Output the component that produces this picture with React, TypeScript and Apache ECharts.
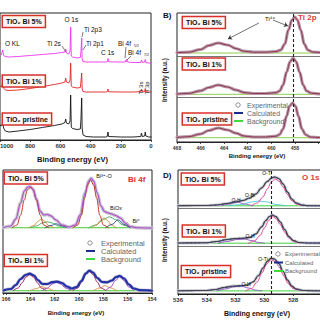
import React, { useEffect, useRef } from 'react';
import * as echarts from 'echarts';

const FONT = '"Liberation Sans", Arial, "DejaVu Sans", sans-serif';

type Pt = [number, number];

// ---------- A) survey spectra: binding energy (eV), stacked intensity (a.u.)
const surveyTicks = [1000, 800, 600, 400, 200, 0];
const surveyPristine: Pt[] = [
  [1000, 15], [992, 14], [982, 17], [976, 12], [965, 9], [940, 8], [880, 9], [800, 10.5],
  [720, 12.5], [640, 14.5], [590, 16], [570, 17.5], [565, 21], [560, 17], [545, 16], [536, 19],
  [532, 45], [528, 13], [520, 11.5], [490, 10.5], [468, 11], [464, 20], [459, 42], [456, 12],
  [450, 5], [430, 3.5], [380, 3], [300, 3], [290, 3.5], [285, 8], [281, 3.5], [200, 3],
  [120, 3], [68, 3.5], [63, 7], [58, 3.5], [42, 4], [38, 8], [34, 4], [15, 3], [0, 3],
];
const surveyBi1: Pt[] = [
  [1000, 54], [992, 53], [982, 57], [976, 52], [965, 50], [940, 49.5], [880, 50], [800, 51.5],
  [720, 53.5], [640, 55.5], [590, 57], [570, 58], [565, 62], [560, 58], [545, 57], [536, 60],
  [532, 77], [528, 54], [520, 53], [490, 52], [468, 52.5], [464, 58], [459, 67], [456, 51],
  [450, 48.5], [430, 48], [300, 48], [290, 48.3], [285, 51], [281, 48.2], [200, 48], [120, 48],
  [68, 48.3], [63, 51], [58, 48.2], [42, 48.5], [38, 51.5], [34, 48.3], [15, 48], [0, 48],
];
const surveyBi5: Pt[] = [
  [1000, 86], [992, 85], [982, 90], [976, 84.5], [965, 83.5], [940, 83], [880, 83.5], [800, 84.5],
  [720, 85.5], [640, 86.5], [590, 87.5], [570, 88], [565, 91], [560, 87], [545, 86], [536, 89],
  [532, 113], [528, 84], [520, 83], [490, 82], [468, 82.5], [464, 88], [459, 102], [456, 81],
  [450, 78.5], [430, 78], [300, 78], [290, 78.3], [285, 81.5], [281, 78.2], [200, 78], [170, 78],
  [165, 80], [162, 78.5], [160, 80.5], [156, 78], [120, 77.5], [68, 77.5], [63, 80], [58, 77.5],
  [42, 78], [38, 80.5], [34, 77.5], [15, 77], [0, 77],
];

// ---------- B) Ti 2p high-resolution spectra
const ti2pTicks = [468, 466, 464, 462, 460, 458];
const ti2pBi5: Pt[] = [
  [468, 89.3], [467, 89.8], [466, 92.5], [465.3, 96.5], [464.5, 99], [463.7, 97], [463, 93.5],
  [462.3, 90.8], [461.5, 89.8], [460.5, 89.8], [459.6, 90.5], [459.2, 92], [458.85, 98],
  [458.55, 112], [458.25, 122], [458.0, 125], [457.78, 122], [457.5, 112], [457.2, 98],
  [456.9, 92], [456.5, 90], [455.5, 89.3], [454, 89],
];
const ti2pBi1: Pt[] = [
  [468, 48], [467, 48.6], [466, 51.2], [465.3, 54.5], [464.5, 57], [463.7, 55], [463, 52],
  [462.3, 49.5], [461.5, 48.5], [460.5, 48.5], [459.6, 49.3], [459.3, 51], [459.0, 57],
  [458.7, 70], [458.4, 80.5], [458.15, 83.7], [457.9, 80.5], [457.6, 70], [457.3, 57],
  [457.0, 51], [456.6, 48.8], [455.8, 48], [454, 47.8],
];
const ti2pPristine: Pt[] = [
  [468, 4.6], [467, 5.3], [466, 8], [465.3, 11.5], [464.5, 14], [463.7, 12], [463, 8.8],
  [462.3, 6], [461.5, 5], [460.5, 5], [459.6, 5.8], [459.3, 7.5], [459.0, 13], [458.7, 26],
  [458.45, 36], [458.2, 39], [457.95, 36], [457.7, 26], [457.4, 13], [457.1, 7.5],
  [456.7, 5], [455.9, 4.5], [454, 4.3],
];
const ti2pBackground = [89, 47.7, 4.3];
const ti2pSeparators = [86, 45];
const ti4Line = 458.15;

// ---------- C) Bi 4f high-resolution spectra
const bi4fTicks = [166, 164, 162, 160, 158, 156, 154];
const bi4fExp5: Pt[] = [
  [166.2, 65.5], [165.6, 67], [165.2, 74], [164.8, 90], [164.5, 102], [164.2, 106],
  [164.0, 106.3], [163.8, 104], [163.5, 94], [163.2, 82], [162.9, 78], [162.6, 78.5],
  [162.3, 77], [161.9, 73], [161.4, 68], [160.8, 66], [160.3, 68], [159.9, 78], [159.5, 100],
  [159.2, 112], [159.0, 114.7], [158.8, 112], [158.5, 100], [158.2, 87], [157.9, 81.5],
  [157.6, 80], [157.3, 79], [157.0, 77.5], [156.6, 75], [156.2, 70], [155.8, 66.5],
  [155.2, 65.3], [154, 65],
];
const bi4fOxide5a: Pt[] = [
  [165.5, 65.2], [165.1, 68], [164.8, 78], [164.5, 93], [164.25, 103], [164.0, 105.5],
  [163.75, 103], [163.5, 93], [163.2, 78], [162.9, 68], [162.5, 65.2],
];
const bi4fOxide5b: Pt[] = [
  [160.5, 65.2], [160.1, 68], [159.8, 78], [159.55, 95], [159.3, 108], [159.05, 113],
  [158.8, 108], [158.55, 95], [158.3, 78], [158.0, 68], [157.6, 65.2],
];
const bi4fBiOxOrange5a: Pt[] = [[164.1, 65.3], [163.7, 67.5], [163.4, 71.5], [163.1, 74.2], [162.8, 71.5], [162.5, 67.5], [162.1, 65.3]];
const bi4fBiOxOrange5b: Pt[] = [[158.95, 65.3], [158.55, 68], [158.25, 72.5], [157.95, 75.2], [157.65, 72.5], [157.35, 68], [156.95, 65.3]];
const bi4fBiOxGreen5a: Pt[] = [[164.0, 65.3], [163.5, 67], [163.0, 70], [162.6, 71.2], [162.2, 70], [161.7, 67], [161.2, 65.3]];
const bi4fBiOxGreen5b: Pt[] = [[159.2, 65.3], [158.6, 68], [158.0, 73.5], [157.5, 76.2], [157.0, 73.5], [156.4, 68], [155.8, 65.3]];
const bi4fMetal5a: Pt[] = [[162.8, 65.3], [162.3, 67.5], [161.9, 69.2], [161.5, 67.5], [161.0, 65.3]];
const bi4fMetal5b: Pt[] = [[157.8, 65.3], [157.3, 68.5], [156.8, 73.2], [156.3, 68.5], [155.8, 65.3]];

const bi4fExp1: Pt[] = [
  [166.2, 2.6], [165.6, 4], [165.2, 8], [164.8, 14], [164.4, 18], [164.05, 19.3], [163.7, 17.5],
  [163.4, 13], [163.0, 9], [162.6, 9], [162.2, 10.8], [161.8, 11.3], [161.4, 10], [161.0, 6.5],
  [160.6, 4.5], [160.2, 6], [159.8, 12], [159.45, 19.5], [159.15, 22.3], [158.85, 20.5],
  [158.5, 15], [158.1, 11], [157.7, 10.7], [157.3, 12.5], [156.95, 16], [156.65, 17.1],
  [156.3, 14.5], [155.9, 8.5], [155.5, 4.5], [155.0, 2.8], [154, 2.4],
];
const bi4fOxide1a: Pt[] = [[165.4, 2.5], [165.0, 5], [164.7, 10], [164.35, 16], [164.05, 18.3], [163.75, 16], [163.4, 10], [163.1, 5], [162.7, 2.5]];
const bi4fOxide1b: Pt[] = [[160.5, 2.5], [160.1, 5], [159.8, 11], [159.45, 18.5], [159.15, 21.8], [158.85, 18.5], [158.5, 11], [158.2, 5], [157.8, 2.5]];
const bi4fMetal1a: Pt[] = [[163.0, 2.5], [162.6, 5], [162.2, 9], [161.85, 10.8], [161.5, 9], [161.1, 5], [160.7, 2.5]];
const bi4fMetal1b: Pt[] = [[157.8, 2.5], [157.4, 6], [157.0, 12.5], [156.65, 16.3], [156.3, 12.5], [155.9, 6], [155.5, 2.5]];
const bi4fBiOx1a: Pt[] = [[164.0, 2.4], [163.5, 4.5], [163.05, 6.3], [162.6, 4.5], [162.1, 2.4]];
const bi4fBiOx1b: Pt[] = [[158.8, 2.4], [158.3, 5], [157.85, 7.3], [157.4, 5], [156.9, 2.4]];
const bi4fBackground = [65.2, 2.3];

// ---------- D) O 1s high-resolution spectra
const o1sTicks = [536, 534, 532, 530, 528];
const o1sExp5: Pt[] = [
  [536, 88.3], [534, 88.5], [533.3, 89], [532.6, 90.5], [532.0, 92], [531.5, 93.5], [531.0, 96],
  [530.6, 100], [530.2, 106], [529.8, 112.5], [529.5, 116], [529.3, 117], [529.0, 115.5],
  [528.7, 110], [528.4, 102], [528.1, 95], [527.8, 91], [527.4, 89], [527, 88.3], [524, 88],
];
const o1sLattice5: Pt[] = [
  [530.9, 88.3], [530.5, 91], [530.1, 97], [529.8, 105], [529.5, 112.5], [529.25, 115],
  [529.0, 113], [528.7, 107], [528.4, 99.5], [528.1, 93.5], [527.7, 89.5], [527.3, 88.3],
];
const o1sOBi5: Pt[] = [[532.5, 88.2], [531.6, 89.5], [530.9, 92], [530.4, 93], [529.8, 92], [529.2, 89.5], [528.5, 88.2]];
const o1sOH5: Pt[] = [[533, 88.2], [532.4, 90], [531.9, 92], [531.4, 90], [530.8, 88.2]];
const o1sExp1: Pt[] = [
  [536, 51], [534, 51.2], [533.3, 52.5], [532.6, 54.5], [532.0, 55.5], [531.5, 55.7], [531.0, 56.5],
  [530.6, 60], [530.2, 67], [529.9, 73.5], [529.65, 77.5], [529.45, 79], [529.2, 77.5],
  [528.9, 72], [528.6, 64.5], [528.3, 57.5], [528.0, 53.5], [527.6, 51.5], [527.0, 51], [524, 50.8],
];
const o1sLattice1: Pt[] = [
  [531.1, 50.8], [530.7, 53], [530.3, 58.5], [530.0, 66], [529.7, 73.5], [529.45, 77.5],
  [529.2, 75.5], [528.9, 69.5], [528.6, 62], [528.3, 56], [527.9, 52], [527.5, 50.8],
];
const o1sOH1: Pt[] = [[533.2, 50.8], [532.6, 52.5], [531.9, 54.5], [531.4, 55], [530.9, 53.5], [530.4, 51.5], [530, 50.8]];
const o1sExpP: Pt[] = [
  [536, 3.2], [534, 3.5], [533.4, 4.5], [532.8, 6.5], [532.2, 7.8], [531.7, 8.2], [531.2, 8.8],
  [530.8, 12], [530.4, 18.5], [530.1, 26], [529.8, 32.5], [529.55, 35.7], [529.3, 35],
  [529.0, 30.5], [528.7, 22.5], [528.4, 14], [528.1, 8], [527.8, 5], [527.3, 3.5], [526.5, 3.2], [524, 3.1],
];
const o1sLatticeP: Pt[] = [
  [531.3, 3.1], [530.9, 5.5], [530.5, 12], [530.15, 21.5], [529.85, 30], [529.55, 34.3],
  [529.25, 32.5], [528.95, 26.5], [528.65, 18], [528.35, 10.5], [528.0, 5.5], [527.6, 3.3],
];
const o1sOHP: Pt[] = [[533.3, 3.1], [532.7, 5], [532.1, 7.3], [531.6, 7.8], [531.1, 6], [530.6, 3.8], [530.2, 3.1]];
const o1sBackground = [88.2, 50.8, 3.1];
const o1sSeparators = [86, 48];
const o1sLatticeLine = 529.55;

// ---------- layout of the four panels (pixels); energy axes run right-to-left
const panels = [
  { left: 0, top: 13, width: 151, height: 127, ticks: surveyTicks, min: 0, max: 1000, font: 6 },
  { left: 177, top: 13, width: 165, height: 129, ticks: ti2pTicks, min: 454, max: 468, font: 5 },
  { left: 3, top: 170, width: 149, height: 123, ticks: bi4fTicks, min: 154, max: 166.25, font: 5.5 },
  { left: 178, top: 170, width: 172.8, height: 124, ticks: o1sTicks, min: 524, max: 536, font: 6 },
];

const flat = (y: number, lo: number, hi: number): Pt[] => [[hi, y], [lo, y]];

function ln(name: string, data: Pt[], gi: number, color: string, width: number, opts: any = {}) {
  return {
    type: 'line',
    name,
    data,
    xAxisIndex: gi,
    yAxisIndex: gi,
    symbol: 'none',
    showSymbol: false,
    smooth: opts.smooth === undefined ? 0.35 : opts.smooth,
    smoothMonotone: 'x',
    silent: true,
    z: opts.z ?? 2,
    lineStyle: { color, width, type: opts.type || 'solid', opacity: opts.opacity ?? 1, cap: 'round', join: 'round' },
    markLine: opts.markLine,
  };
}

function txt(x: number, y: number, text: string, o: any = {}) {
  const align = o.align || 'left';
  const va = o.va || 'middle';
  return {
    type: 'text',
    x,
    y,
    rotation: o.rot || 0,
    silent: true,
    z: 100,
    style: {
      text,
      fill: o.color || '#111',
      font: `${o.weight || 'normal'} ${o.size || 7}px ${FONT}`,
      align,
      verticalAlign: va,
      textAlign: align,
      textVerticalAlign: va,
      ...(o.box
        ? { backgroundColor: '#fff7f5', borderColor: '#d6302b', borderWidth: 1.5, padding: [2, 3, 1.5, 3] }
        : {}),
    },
  };
}

const sampleBox = (x: number, y: number, text: string) => txt(x, y, text, { box: true, weight: 'bold', size: 7 });

function seg(x1: number, y1: number, x2: number, y2: number, color = '#222', w = 0.6) {
  return { type: 'line', silent: true, z: 90, shape: { x1, y1, x2, y2 }, style: { stroke: color, lineWidth: w } };
}

function legend(x: number, y: number, gap: number, textX: number, size: number) {
  return [
    { type: 'circle', silent: true, z: 90, shape: { cx: x + 4, cy: y, r: 2.2 }, style: { fill: 'none', stroke: '#777', lineWidth: 0.8 } },
    txt(textX, y, 'Experimental', { color: '#666', size }),
    seg(x, y + gap, x + 9, y + gap, '#1b2a8f', 2),
    txt(textX, y + gap, 'Calculated', { color: '#666', size }),
    seg(x, y + 2 * gap, x + 9, y + 2 * gap, '#3ddc3d', 2),
    txt(textX, y + 2 * gap, 'Background', { color: '#666', size }),
  ];
}

const EXP_B = '#b897a6';
const CALC_B = '#8a3552';
const BG = '#8ccf4a';

function buildOption() {
  const grid = panels.map((p) => ({
    left: p.left, top: p.top, width: p.width, height: p.height,
    containLabel: false, outerBoundsMode: 'none',
    show: true, borderColor: '#222', borderWidth: 1, backgroundColor: 'transparent',
  }));

  const xAxis = panels.map((p, i) => {
    const interval = Math.abs(p.ticks[0] - p.ticks[1]);
    const tickSet = new Set(p.ticks);
    return {
      gridIndex: i,
      type: 'value',
      inverse: true,
      min: p.min,
      max: p.max,
      interval,
      axisLine: { show: true, lineStyle: { color: '#222', width: 1 } },
      axisTick: { show: true, length: 2, lineStyle: { color: '#222', width: 0.8 } },
      minorTick: { show: true, splitNumber: 2, length: 1.2, lineStyle: { color: '#333', width: 0.6 } },
      splitLine: { show: false },
      axisLabel: {
        fontSize: p.font, color: '#333', fontWeight: 'bold', fontFamily: FONT, margin: 3,
        hideOverlap: false,
        alignMaxLabel: i === 0 ? 'left' : undefined,
        formatter: (v: number) => {
          const r = Math.round(v);
          return Math.abs(v - r) < 1e-6 && tickSet.has(r) ? String(r) : '';
        },
      },
    };
  });

  const yAxis = panels.map((p, i) => ({ gridIndex: i, type: 'value', min: 0, max: p.height, show: false }));

  const series: any[] = [];

  // A) survey
  series.push(ln('TiO2 pristine', surveyPristine, 0, '#111', 0.9, { smooth: false }));
  series.push(ln('TiO2 Bi 1%', surveyBi1, 0, '#e32424', 0.9, { smooth: false }));
  series.push(ln('TiO2 Bi 5%', surveyBi5, 0, '#ee36ee', 0.9, { smooth: false }));

  // B) Ti 2p
  const ti2p = [ti2pBi5, ti2pBi1, ti2pPristine];
  ti2p.forEach((d, k) => {
    series.push(ln('Background', flat(ti2pBackground[k], 454, 468), 1, BG, 1, {
      smooth: false,
      markLine: k === 0 ? {
        silent: true, symbol: ['none', 'none'], label: { show: false }, animation: false,
        data: [
          ...ti2pSeparators.map((v) => ({ yAxis: v, lineStyle: { color: '#555', width: 0.8, type: 'solid' } })),
          { xAxis: ti4Line, lineStyle: { color: '#222', width: 1.1, type: [3, 2] } },
        ],
      } : undefined,
    }));
    series.push(ln('Experimental', d, 1, EXP_B, 3.2, { z: 3 }));
    series.push(ln('Calculated', d, 1, CALC_B, 1, { z: 4 }));
  });
  // arrows pointing at the two Ti4+ doublet peaks
  series.push({
    type: 'line', data: [], xAxisIndex: 1, yAxisIndex: 1, silent: true,
    markLine: {
      silent: true, symbol: ['none', 'arrow'], symbolSize: 4, label: { show: false }, animation: false,
      lineStyle: { color: '#333', width: 0.7, type: 'solid' },
      data: [
        [{ coord: [461.05, 119] }, { coord: [463.68, 103] }],
        [{ coord: [459.86, 122] }, { coord: [458.59, 116] }],
      ],
    },
  });

  // C) Bi 4f
  bi4fBackground.forEach((v) => series.push(ln('Background', flat(v, 154, 166.25), 2, '#45cc2e', 1.1, { smooth: false })));
  series.push(ln('Experimental', bi4fExp5, 2, '#c9c3d2', 3.4, { z: 2 }));
  series.push(ln('Experimental', bi4fExp1, 2, '#c9c3d2', 3.4, { z: 2 }));
  [bi4fBiOxGreen5a, bi4fBiOxGreen5b].forEach((d) => series.push(ln('BiOx', d, 2, '#3aa85a', 0.9, { z: 3 })));
  [bi4fBiOxOrange5a, bi4fBiOxOrange5b, bi4fBiOx1a, bi4fBiOx1b].forEach((d) => series.push(ln('BiOx', d, 2, '#d98a3a', 0.9, { z: 3 })));
  [bi4fMetal5a, bi4fMetal5b].forEach((d) => series.push(ln('Bi0', d, 2, '#2c3f8c', 0.9, { z: 3 })));
  [bi4fMetal1a, bi4fMetal1b].forEach((d) => series.push(ln('Bi0', d, 2, '#9a4fd0', 1, { z: 3 })));
  [bi4fOxide5a, bi4fOxide5b].forEach((d) => series.push(ln('Bi3+-O', d, 2, '#c0392b', 1, { z: 4 })));
  [bi4fOxide1a, bi4fOxide1b].forEach((d) => series.push(ln('Bi3+-O', d, 2, '#9c2f6e', 1, { z: 4 })));
  series.push(ln('Calculated', bi4fExp5, 2, '#b04ac8', 1.1, { z: 5 }));
  series.push(ln('Calculated', bi4fExp1, 2, '#2433a6', 2.2, { z: 5 }));

  // D) O 1s
  o1sBackground.forEach((v, k) => series.push(ln('Background', flat(v, 524, 536), 3, '#3fd13f', 1, {
    smooth: false,
    markLine: k === 0 ? {
      silent: true, symbol: ['none', 'none'], label: { show: false }, animation: false,
      data: [
        ...o1sSeparators.map((s) => ({ yAxis: s, lineStyle: { color: '#555', width: 0.8, type: 'solid' } })),
        { xAxis: o1sLatticeLine, lineStyle: { color: '#222', width: 1.1, type: [3, 2] } },
      ],
    } : undefined,
  })));
  [o1sExp5, o1sExp1, o1sExpP].forEach((d) => series.push(ln('Experimental', d, 3, '#cfcfcf', 3.2, { z: 2 })));
  series.push(ln('O-Bi', o1sOBi5, 3, '#4fc8d8', 0.9, { z: 3 }));
  [o1sOH5, o1sOH1, o1sOHP].forEach((d) => series.push(ln('O-H', d, 3, '#8a4fc0', 0.9, { z: 3 })));
  [o1sLattice5, o1sLattice1, o1sLatticeP].forEach((d) => series.push(ln('O-Ti', d, 3, '#e2489a', 1, { z: 4 })));
  [o1sExp5, o1sExp1, o1sExpP].forEach((d) => series.push(ln('Calculated', d, 3, '#1b2a8f', 0.9, { z: 5 })));
  [o1sExp5, o1sExp1, o1sExpP].forEach((d) => series.push(ln('Experimental', d, 3, '#444', 1.1, { z: 6, type: [2.5, 1.5] })));

  const graphic: any[] = [
    // A) survey annotations
    sampleBox(3, 21.5, 'TiO₂ Bi 5%'),
    sampleBox(3, 81, 'TiO₂ Bi 1%'),
    sampleBox(3, 119, 'TiO₂ pristine'),
    txt(64.5, 19, 'O 1s', { size: 6.5 }),
    txt(84, 29, 'Ti 2p3', { size: 6.5 }),
    txt(86, 43, 'Ti 2p1', { size: 6.5 }),
    txt(47, 43, 'Ti 2s', { size: 6.5 }),
    txt(5, 43, 'O KL', { size: 6.5 }),
    txt(101, 52, 'C 1s', { size: 6.5 }),
    txt(118, 43, 'Bi 4f', { size: 6.5 }),
    txt(134, 45.5, '5/2', { size: 3.5 }),
    txt(128, 52, 'Bi 4f', { size: 6.5 }),
    txt(144, 54.5, '7/2', { size: 3.5 }),
    txt(141, 88, 'Ti 3s', { size: 6, rot: Math.PI / 2, align: 'center' }),
    txt(147, 88, 'Ti 3p', { size: 6, rot: Math.PI / 2, align: 'center' }),
    seg(62, 46, 66, 52),
    seg(83, 32, 82, 37),
    seg(86, 45, 83, 50),
    seg(126, 47, 125, 58),
    seg(131, 56, 127, 60),
    txt(72.5, 159, 'Binding energy (eV)', { weight: 'bold', size: 7.5, align: 'center' }),

    // B) Ti 2p annotations
    txt(163, 15, 'B)', { weight: 'bold', size: 8 }),
    txt(164, 80, 'Intensity (a.u.)', { weight: 'bold', size: 6.5, rot: Math.PI / 2, align: 'center' }),
    sampleBox(183, 22.5, 'TiO₂ Bi 5%'),
    sampleBox(183, 64, 'TiO₂ Bi 1%'),
    sampleBox(183, 119, 'TiO₂ pristine'),
    txt(298, 17.5, 'Ti 2p', { weight: 'bold', size: 8, color: '#e03c3c' }),
    txt(265, 19, 'Ti⁴⁺', { size: 6 }),
    ...legend(234, 105, 8, 247, 7),
    txt(257, 156, 'Binding energy (eV)', { weight: 'bold', size: 6, align: 'center' }),

    // C) Bi 4f annotations
    sampleBox(5, 178, 'TiO₂ Bi 5%'),
    sampleBox(5, 260.5, 'TiO₂ Bi 1%'),
    txt(128, 179, 'Bi 4f', { weight: 'bold', size: 8, color: '#e02b2b' }),
    txt(104, 176, 'Bi³⁺-O', { size: 5.5, align: 'center' }),
    txt(116, 208, 'BiOx', { size: 5.5, align: 'center' }),
    txt(136, 221, 'Bi⁰', { size: 5.5, align: 'center' }),
    ...legend(86, 243, 8, 101, 7.5),
    txt(76, 313, 'Binding energy (eV)', { weight: 'bold', size: 6, align: 'center' }),

    // D) O 1s annotations
    txt(163, 175, 'D)', { weight: 'bold', size: 8 }),
    txt(164, 240, 'Intensity (a.u.)', { weight: 'bold', size: 6.5, rot: Math.PI / 2, align: 'center' }),
    sampleBox(182, 179, 'TiO₂ Bi 5%'),
    sampleBox(183, 231, 'TiO₂ Bi 1%'),
    sampleBox(182, 271.5, 'TiO₂ pristine'),
    txt(302, 177, 'O 1s', { weight: 'bold', size: 8, color: '#e03c3c' }),
    txt(267, 173, 'O-Ti', { size: 5, align: 'center' }),
    txt(250, 195, 'O-Bi', { size: 5, align: 'center' }),
    txt(236, 200, 'O-H', { size: 5, align: 'center' }),
    txt(250, 236, 'O-H', { size: 5, align: 'center' }),
    txt(263, 259, 'O-Ti', { size: 5, align: 'center' }),
    txt(246, 284, 'O-H', { size: 5, align: 'center' }),
    ...legend(274, 254, 8.5, 285, 6),
    txt(257, 313, 'Binding energy (eV)', { weight: 'bold', size: 7, align: 'center' }),
  ];

  return {
    animation: false,
    backgroundColor: '#fff',
    textStyle: { fontFamily: FONT },
    grid,
    xAxis,
    yAxis,
    series,
    graphic,
  };
}

export default function App() {
  const ref = useRef<HTMLDivElement>(null);
  useEffect(() => {
    if (!ref.current) return;
    const chart = echarts.init(ref.current, undefined, { renderer: 'svg', width: 320, height: 320 });
    chart.setOption(buildOption() as any);
    return () => chart.dispose();
  }, []);
  return (
    <div
      ref={ref}
      style={{ position: 'fixed', left: 0, top: 0, width: 320, height: 320, background: '#fff', overflow: 'hidden' }}
    />
  );
}
